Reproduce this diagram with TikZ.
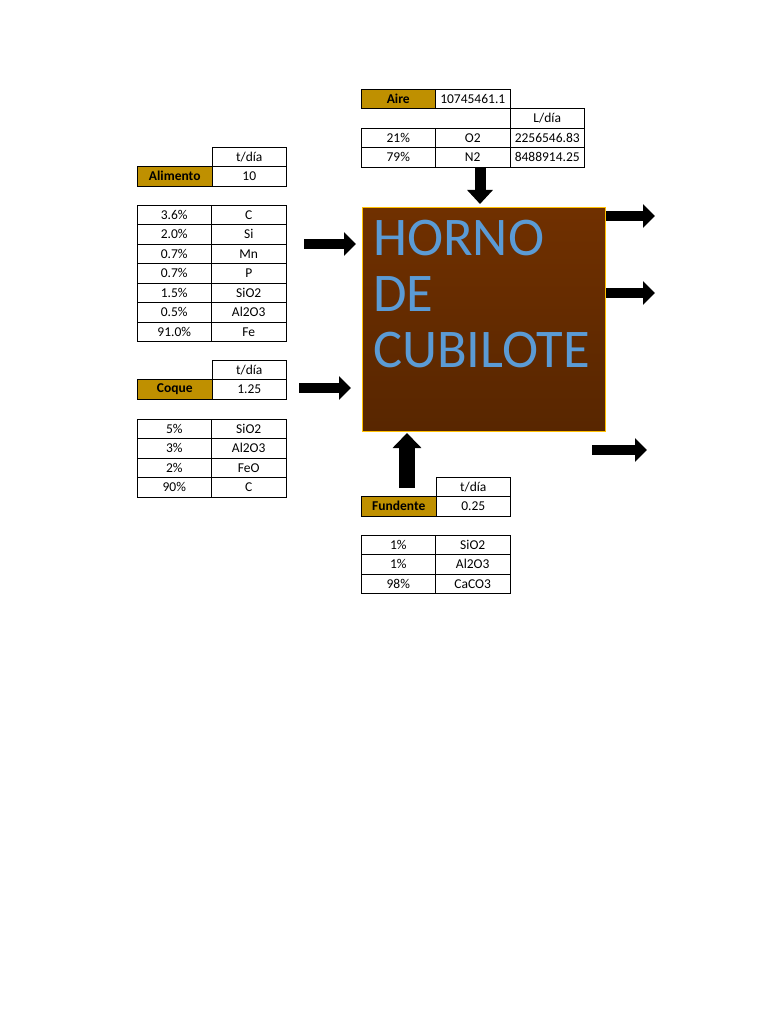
\documentclass[tikz,border=0pt]{standalone}
\usepackage{fontspec}
\setmainfont{Carlito}
\usetikzlibrary{positioning,arrows.meta}
\definecolor{oro}{RGB}{191,144,0}
\definecolor{cafealto}{RGB}{112,48,0}
\definecolor{cafebajo}{RGB}{88,38,0}
\definecolor{borde}{RGB}{255,192,0}
\definecolor{azul}{RGB}{91,155,213}
\begin{document}
\begin{tikzpicture}[x=1pt, y=-1pt,
  celda/.style={rectangle, draw, line width=0.6pt, minimum width=74.5pt, minimum height=19.5pt, inner sep=0pt, outer sep=0pt, font=\fontsize{13.5}{15}\selectfont},
  etiqueta/.style={celda, fill=oro, font=\fontsize{13.5}{15}\selectfont\bfseries},
  horno/.style={rectangle, draw=borde, line width=1pt, top color=cafealto, bottom color=cafebajo, minimum width=243pt, minimum height=224pt, inner sep=0pt},
  flecha/.style={line width=10pt, -{Triangle[length=12pt,width=23pt]}}]

  \useasboundingbox (0,0) rectangle (768,1024);

  % horno
  \node[horno, anchor=north west] (horno) at (362,207) {};
  \node[anchor=north west, inner sep=0pt, align=left, text=azul, font=\fontsize{54.5}{56}\selectfont] (titulo) at (373,220) {HORNO\\DE\\CUBILOTE};

  % aire
  \node[etiqueta, anchor=north west] (aire) at (361,89) {Aire};
  \node[celda, right=0pt of aire] (aire-v) {10745461.1};
  \node[celda, below right=0pt and 0pt of aire-v.south east, anchor=north west] (aire-u) {L/día};
  \node[celda, below=0pt of aire-u] (o2-v) {2256546.83};
  \node[celda, left=0pt of o2-v] (o2) {O2};
  \node[celda, left=0pt of o2] (o2-p) {21\%};
  \node[celda, below=0pt of o2-v] (n2-v) {8488914.25};
  \node[celda, left=0pt of n2-v] (n2) {N2};
  \node[celda, left=0pt of n2] (n2-p) {79\%};

  % alimento
  \node[celda, anchor=north west] (ali-u) at (212,147) {t/día};
  \node[celda, below=0pt of ali-u] (ali-v) {10};
  \node[etiqueta, left=0pt of ali-v] (ali) {Alimento};

  \node[celda, anchor=north west] (c-p) at (137,205) {3.6\%};
  \node[celda, right=0pt of c-p] (c) {C};
  \node[celda, below=0pt of c-p] (si-p) {2.0\%};
  \node[celda, right=0pt of si-p] (si) {Si};
  \node[celda, below=0pt of si-p] (mn-p) {0.7\%};
  \node[celda, right=0pt of mn-p] (mn) {Mn};
  \node[celda, below=0pt of mn-p] (p-p) {0.7\%};
  \node[celda, right=0pt of p-p] (p) {P};
  \node[celda, below=0pt of p-p] (sio2-p) {1.5\%};
  \node[celda, right=0pt of sio2-p] (sio2) {SiO2};
  \node[celda, below=0pt of sio2-p] (al-p) {0.5\%};
  \node[celda, right=0pt of al-p] (al) {Al2O3};
  \node[celda, below=0pt of al-p] (fe-p) {91.0\%};
  \node[celda, right=0pt of fe-p] (fe) {Fe};

  % coque
  \node[celda, anchor=north west] (coq-u) at (212,360) {t/día};
  \node[celda, below=0pt of coq-u] (coq-v) {1.25};
  \node[etiqueta, left=0pt of coq-v] (coq) {Coque};

  \node[celda, anchor=north west] (k1-p) at (137,419) {5\%};
  \node[celda, right=0pt of k1-p] (k1) {SiO2};
  \node[celda, below=0pt of k1-p] (k2-p) {3\%};
  \node[celda, right=0pt of k2-p] (k2) {Al2O3};
  \node[celda, below=0pt of k2-p] (k3-p) {2\%};
  \node[celda, right=0pt of k3-p] (k3) {FeO};
  \node[celda, below=0pt of k3-p] (k4-p) {90\%};
  \node[celda, right=0pt of k4-p] (k4) {C};

  % fundente
  \node[celda, anchor=north west] (fun-u) at (436,477) {t/día};
  \node[celda, below=0pt of fun-u] (fun-v) {0.25};
  \node[etiqueta, left=0pt of fun-v] (fun) {Fundente};

  \node[celda, anchor=north west] (f1-p) at (361,535) {1\%};
  \node[celda, right=0pt of f1-p] (f1) {SiO2};
  \node[celda, below=0pt of f1-p] (f2-p) {1\%};
  \node[celda, right=0pt of f2-p] (f2) {Al2O3};
  \node[celda, below=0pt of f2-p] (f3-p) {98\%};
  \node[celda, right=0pt of f3-p] (f3) {CaCO3};

  % flechas
  \coordinate (e-ali) at (304,244);
  \coordinate (s-ali) at (356,244);
  \coordinate (e-coq) at (299,388);
  \coordinate (s-coq) at (351,388);
  \coordinate (e-aire) at (480,168);
  \coordinate (s-aire) at (480,204);
  \coordinate (e-fun) at (407,488);
  \coordinate (s-fun) at (407,433);
  \coordinate (gas) at (655,216);
  \coordinate (arr) at (655,293);
  \coordinate (e-esc) at (592,450);
  \coordinate (esc) at (647,450);

  \draw[flecha] (e-ali) -- (s-ali);
  \draw[flecha] (e-coq) -- (s-coq);
  \draw[flecha, line width=11pt, -{Triangle[length=14pt,width=25pt]}] (e-aire) -- (s-aire);
  \draw[flecha, line width=16pt, -{Triangle[length=15pt,width=28pt]}] (e-fun) -- (s-fun);
  \draw[flecha] (horno.east |- gas) -- (gas);
  \draw[flecha] (horno.east |- arr) -- (arr);
  \draw[flecha] (e-esc) -- (esc);
\end{tikzpicture}
\end{document}
